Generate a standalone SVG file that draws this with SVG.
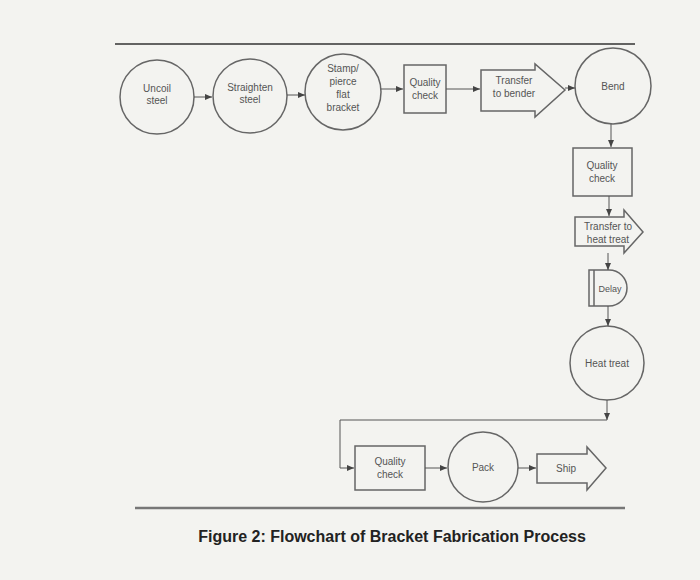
<svg xmlns="http://www.w3.org/2000/svg" width="700" height="580" viewBox="0 0 700 580">
<style>
.s{fill:none;stroke:#666;stroke-width:1.5}
.c{stroke:#555;stroke-width:1;fill:none}
text{font-family:"Liberation Sans",Arial,sans-serif;font-size:10px;fill:#555;text-anchor:middle}
</style>
<defs><marker id="a" markerWidth="7" markerHeight="6" refX="7" refY="3" orient="auto" markerUnits="userSpaceOnUse"><path d="M0,0L7,3L0,6z" fill="#444"/></marker></defs>
<rect width="700" height="580" fill="#f3f3f0"/>
<line x1="115" y1="44" x2="635" y2="44" stroke="#333" stroke-width="1.5"/>
<line x1="135" y1="508" x2="625" y2="508" stroke="#777" stroke-width="2.5"/>
<g id="n1"><circle class="s" cx="157" cy="97" r="37"/><text x="157" y="92">Uncoil</text><text x="157" y="104">steel</text></g>
<g id="n2"><circle class="s" cx="250" cy="96" r="37"/><text x="250" y="91">Straighten</text><text x="250" y="103">steel</text></g>
<g id="n3"><circle class="s" cx="343" cy="92" r="38"/><text x="343" y="72">Stamp/</text><text x="343" y="85">pierce</text><text x="343" y="98">flat</text><text x="343" y="111">bracket</text></g>
<g id="n4"><rect class="s" x="404" y="65" width="42" height="48"/><text x="425" y="86">Quality</text><text x="425" y="99">check</text></g>
<g id="n5"><path class="s" d="M481,70H535V64L565,90L535,117V111H481z"/><text x="514" y="84">Transfer</text><text x="514" y="97">to bender</text></g>
<g id="n6"><circle class="s" cx="613" cy="86" r="38"/><text x="613" y="90">Bend</text></g>
<g id="n7"><rect class="s" x="573" y="148" width="59" height="48"/><text x="602" y="169">Quality</text><text x="602" y="182">check</text></g>
<g id="n8"><path class="s" d="M575,217H624V210L643,232L624,253V246H575z"/><text x="608" y="230">Transfer to</text><text x="608" y="243">heat treat</text></g>
<g id="n9"><path class="s" d="M589,270H609A18,18 0 0 1 609,306H589z"/><line class="s" x1="594" y1="270" x2="594" y2="306"/><text x="610" y="292" style="font-size:9px">Delay</text></g>
<g id="n10"><circle class="s" cx="607" cy="363" r="37"/><text x="607" y="367">Heat treat</text></g>
<g id="n11"><rect class="s" x="355" y="446" width="70" height="44"/><text x="390" y="465">Quality</text><text x="390" y="478">check</text></g>
<g id="n12"><circle class="s" cx="483" cy="467" r="35"/><text x="483" y="471">Pack</text></g>
<g id="n13"><path class="s" d="M537,454H587V447L606,468L587,490V483H537z"/><text x="566" y="472">Ship</text></g>
<g id="edges">
<line class="c" x1="194" y1="97" x2="212" y2="97" marker-end="url(#a)"/>
<line class="c" x1="287" y1="95" x2="305" y2="95" marker-end="url(#a)"/>
<line class="c" x1="381" y1="89" x2="403" y2="89" marker-end="url(#a)"/>
<line class="c" x1="446" y1="89" x2="480" y2="89" marker-end="url(#a)"/>
<line class="c" x1="565" y1="88" x2="575" y2="88" marker-end="url(#a)"/>
<line class="c" x1="611" y1="124" x2="611" y2="147" marker-end="url(#a)"/>
<line class="c" x1="609" y1="196" x2="609" y2="216" marker-end="url(#a)"/>
<line class="c" x1="608" y1="253" x2="608" y2="270" marker-end="url(#a)"/>
<line class="c" x1="608" y1="306" x2="608" y2="326" marker-end="url(#a)"/>
<path class="c" d="M607,400V420" marker-end="url(#a)"/>
<path class="c" d="M607,420H340V468H354" marker-end="url(#a)"/>
<line class="c" x1="425" y1="468" x2="447" y2="468" marker-end="url(#a)"/>
<line class="c" x1="518" y1="468" x2="536" y2="468" marker-end="url(#a)"/>
</g>
<text x="392" y="542" style="font-size:16px;font-weight:bold;fill:#222">Figure 2: Flowchart of Bracket Fabrication Process</text>
</svg>
